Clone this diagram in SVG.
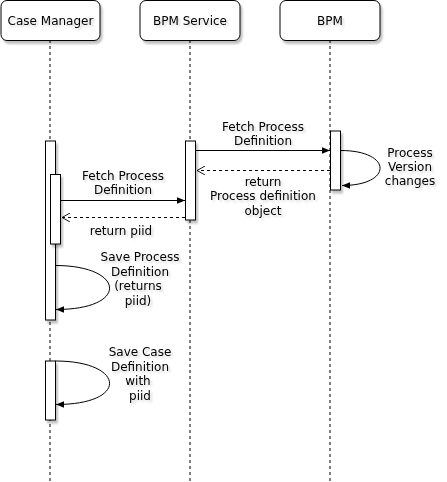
<svg xmlns="http://www.w3.org/2000/svg" width="447" height="482" viewBox="0 0 447 482">
<defs>
<filter id="sh" x="-20%" y="-20%" width="150%" height="150%">
<feGaussianBlur in="SourceAlpha" stdDeviation="1.2"/>
<feOffset dx="2" dy="3" result="b"/>
<feComponentTransfer><feFuncA type="linear" slope="0.25"/></feComponentTransfer>
<feMerge><feMergeNode/><feMergeNode in="SourceGraphic"/></feMerge>
</filter>
<filter id="tsh" x="-10%" y="-30%" width="130%" height="170%">
<feGaussianBlur in="SourceAlpha" stdDeviation="1"/>
<feOffset dx="1.5" dy="2"/>
<feComponentTransfer><feFuncA type="linear" slope="0.18"/></feComponentTransfer>
<feMerge><feMergeNode/><feMergeNode in="SourceGraphic"/></feMerge>
</filter>
<marker id="fa" viewBox="0 0 10 10" refX="10" refY="5" markerWidth="8" markerHeight="8" markerUnits="userSpaceOnUse" orient="auto">
<path d="M0,1 L10,5 L0,9 Z" fill="#000"/>
</marker>
<marker id="oe" viewBox="0 0 10 10" refX="9" refY="5" markerWidth="9" markerHeight="9" markerUnits="userSpaceOnUse" orient="auto">
<path d="M0,0 L9,5 L0,10" fill="none" stroke="#000" stroke-width="1"/>
</marker>
</defs>
<style>
.box{fill:#fff;stroke:#000;stroke-width:1}
.bar{fill:#fff;stroke:#000;stroke-width:1}
.life{stroke:#000;stroke-width:1;stroke-dasharray:3 3;fill:none}
.msg{stroke:#000;stroke-width:1;fill:none}
.ret{stroke:#000;stroke-width:1;fill:none;stroke-dasharray:3 3}
text{font-family:"DejaVu Sans",Verdana,sans-serif;font-size:12px;fill:#000;text-anchor:middle}
</style>
<rect width="447" height="482" fill="#fff"/>
<g id="lifelines">
<line class="life" x1="50" y1="40" x2="50" y2="482"/>
<line class="life" x1="190" y1="40" x2="190" y2="482"/>
<line class="life" x1="330" y1="40" x2="330" y2="482"/>
</g>
<g id="case-manager">
<rect class="box" x="1" y="0.5" width="99" height="40" rx="6" filter="url(#sh)"/>
<text x="50.5" y="24.5" filter="url(#tsh)">Case Manager</text>
</g>
<g id="bpm-service">
<rect class="box" x="140" y="0.5" width="100" height="40" rx="6" filter="url(#sh)"/>
<text x="190" y="24.5" filter="url(#tsh)">BPM Service</text>
</g>
<g id="bpm">
<rect class="box" x="280" y="0.5" width="100" height="40" rx="6" filter="url(#sh)"/>
<text x="330" y="24.5" filter="url(#tsh)">BPM</text>
</g>
<g id="activations">
<rect class="bar" x="45.5" y="141" width="10" height="179" filter="url(#sh)"/>
<rect class="bar" x="50.5" y="174.5" width="10" height="69.5" filter="url(#sh)"/>
<rect class="bar" x="185.5" y="141" width="10" height="79" filter="url(#sh)"/>
<rect class="bar" x="330.5" y="131" width="10" height="59" filter="url(#sh)"/>
<rect class="bar" x="45.5" y="361" width="10" height="59" filter="url(#sh)"/>
</g>
<g id="connectors">
<line class="msg" x1="195.5" y1="150.5" x2="330" y2="150.5" marker-end="url(#fa)"/>
<line class="ret" x1="330" y1="170.5" x2="197" y2="170.5" marker-end="url(#oe)"/>
<path class="msg" d="M340.5,150.5 C393,150.5 393,185.5 342,185.5" marker-end="url(#fa)"/>
<line class="msg" x1="60.5" y1="200.5" x2="185" y2="200.5" marker-end="url(#fa)"/>
<line class="ret" x1="185" y1="217.5" x2="62" y2="217.5" marker-end="url(#oe)"/>
<path class="msg" d="M55.5,265.5 C125,265.5 130,309.5 56,309.5" marker-end="url(#fa)"/>
<path class="msg" d="M55.5,361 C125,361 130,404.5 56,404.5" marker-end="url(#fa)"/>
</g>
<g id="labels" filter="url(#tsh)">
<text x="263" y="131">Fetch Process</text>
<text x="263" y="145">Definition</text>
<text x="263" y="186">return</text>
<text x="263" y="200">Process definition</text>
<text x="263" y="215">object</text>
<text x="410" y="157">Process</text>
<text x="410" y="171">Version</text>
<text x="410" y="185">changes</text>
<text x="123" y="180">Fetch Process</text>
<text x="123" y="194">Definition</text>
<text x="121" y="235">return piid</text>
<text x="140" y="261">Save Process</text>
<text x="140" y="276">Definition</text>
<text x="138" y="290">(returns</text>
<text x="138" y="305">piid)</text>
<text x="140" y="356">Save Case</text>
<text x="140" y="371">Definition</text>
<text x="138" y="385">with</text>
<text x="140" y="400">piid</text>
</g>
</svg>
